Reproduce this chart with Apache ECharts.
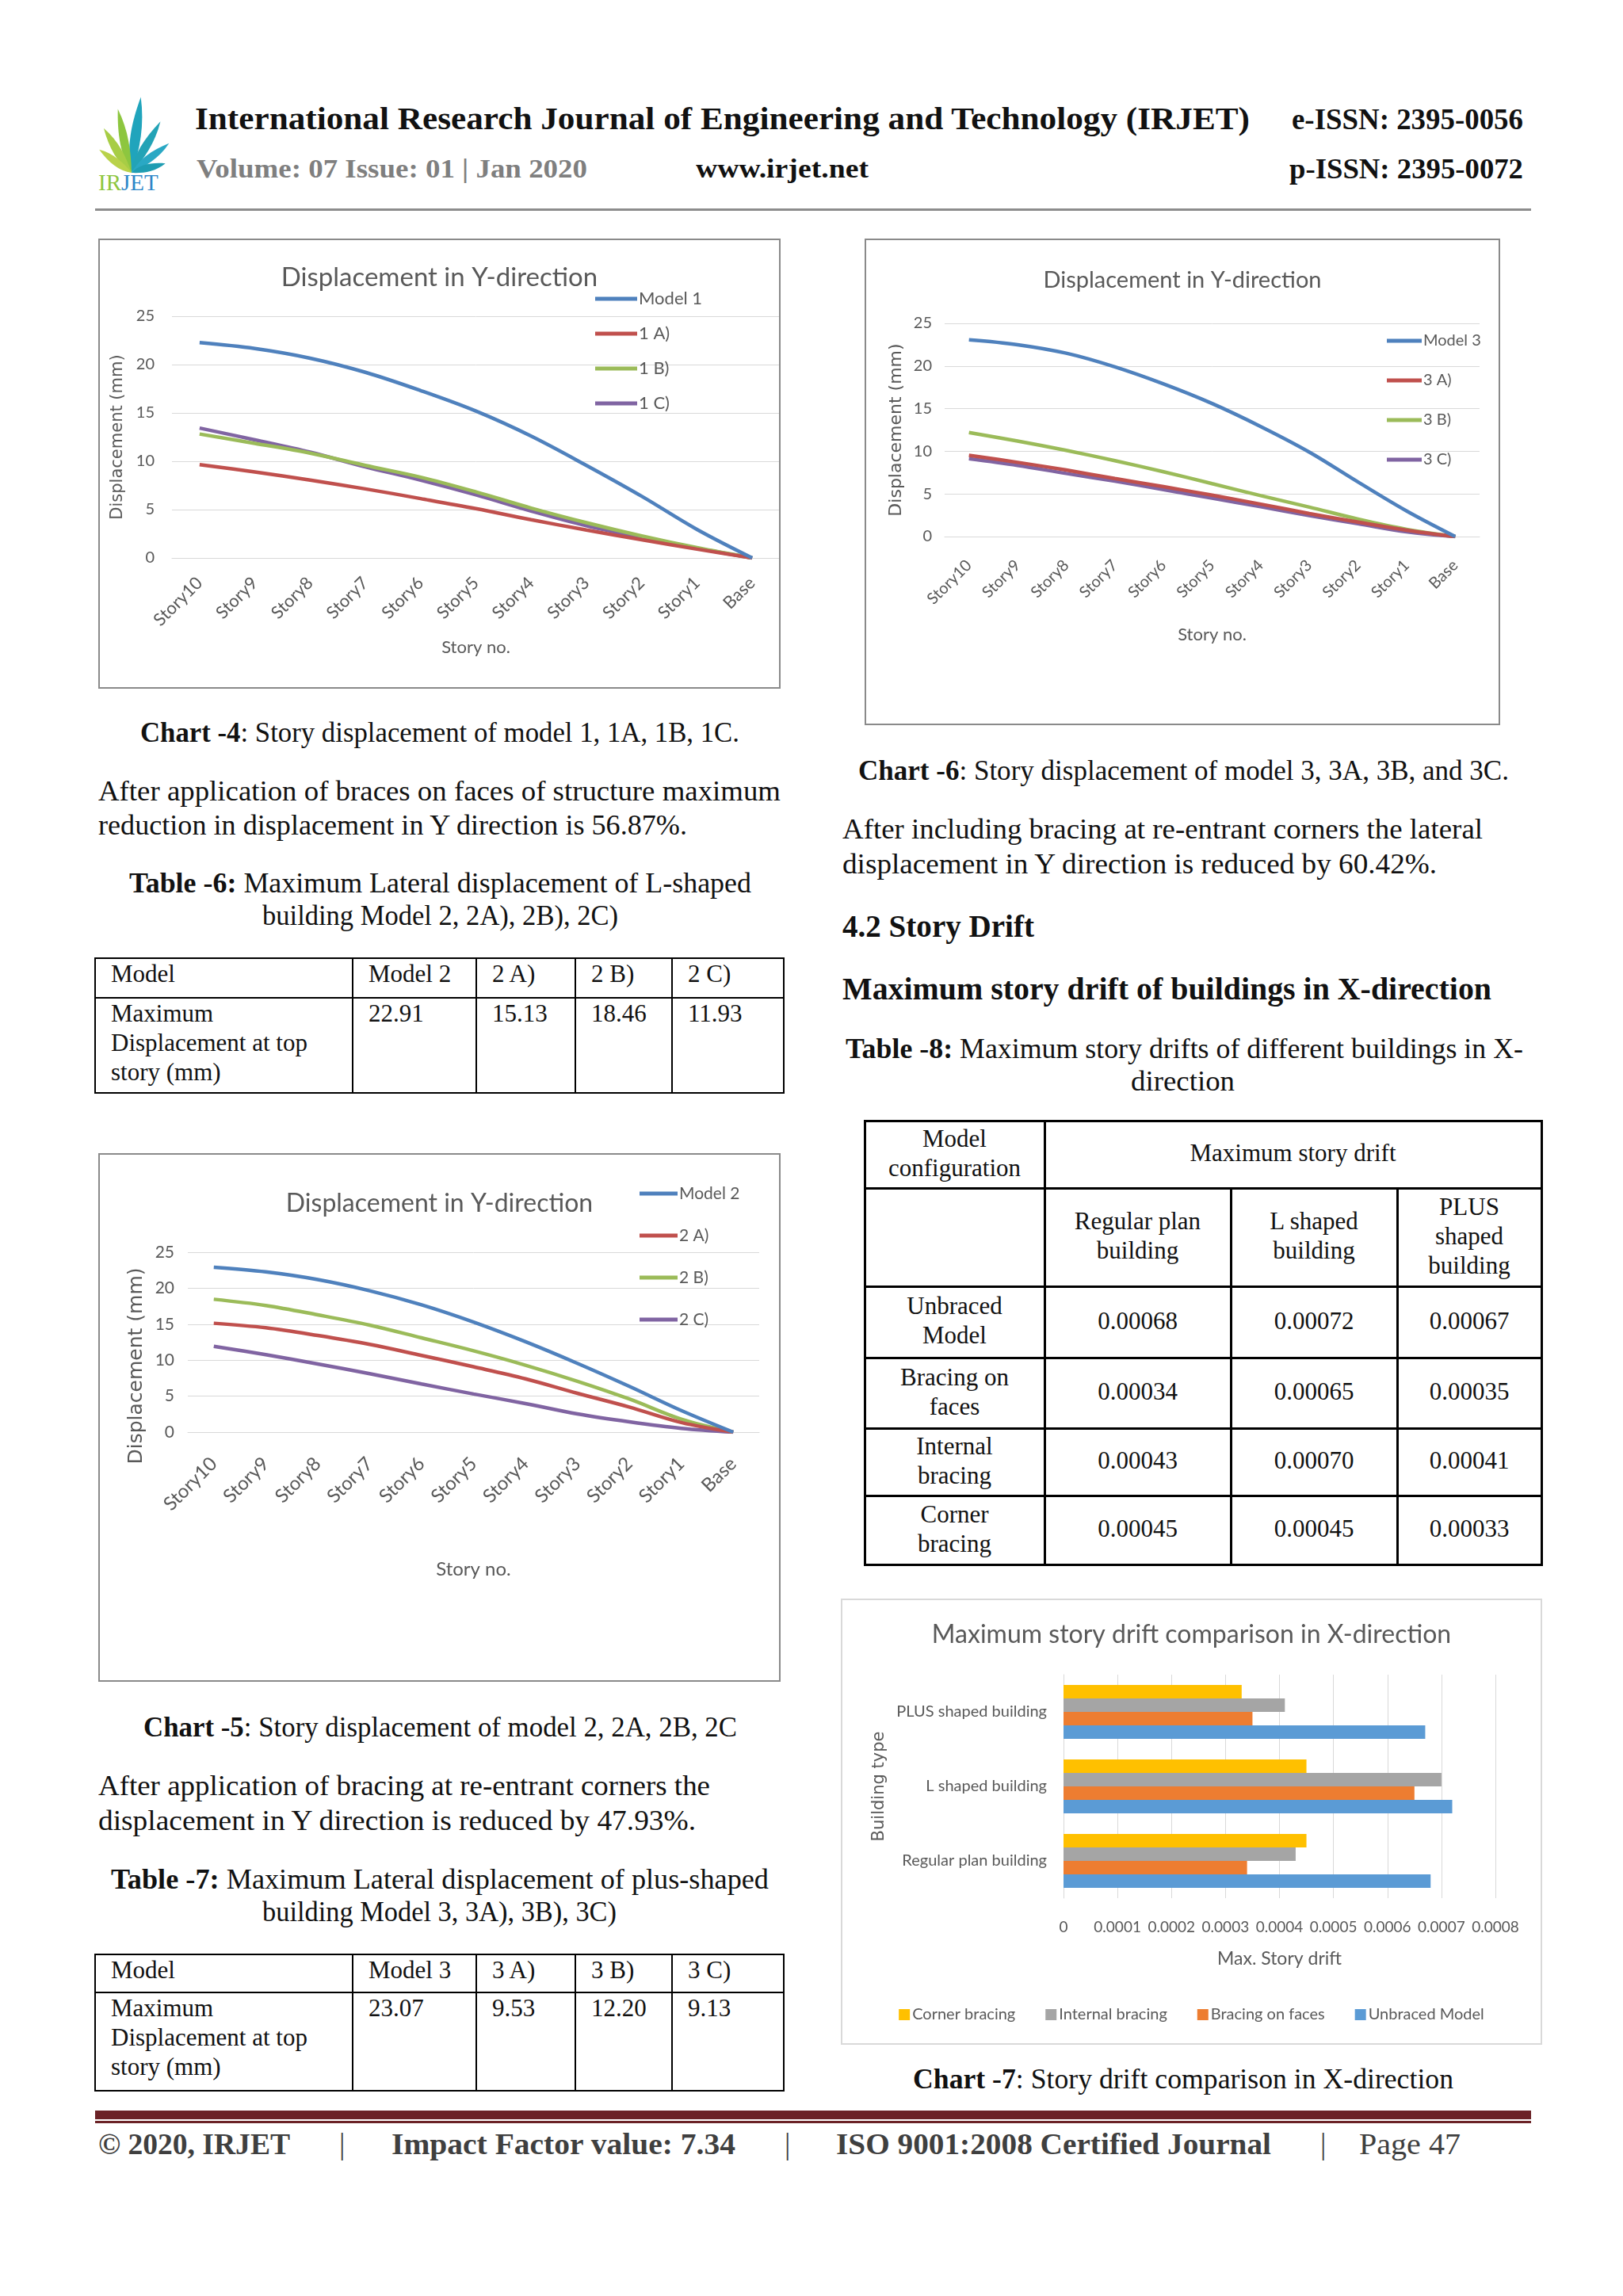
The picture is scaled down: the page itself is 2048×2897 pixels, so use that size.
<!DOCTYPE html>
<html><head><meta charset="utf-8">
<script src="https://cdn.jsdelivr.net/npm/echarts@6/dist/echarts.min.js"></script>
<style>
html,body{margin:0;padding:0;background:#fff;}
#page{position:relative;width:2048px;height:2897px;overflow:hidden;background:#fff;}
.t{position:absolute;white-space:nowrap;font-family:"Liberation Serif",serif;color:#111;transform-origin:0 0;}
.ln{position:absolute;background:#000;}
.chart{position:absolute;}
.frame{position:absolute;box-sizing:border-box;pointer-events:none;}
</style></head>
<body><div id="page">
<svg id="logo" style="position:absolute;left:110px;top:120px" width="120" height="126" viewBox="0 0 120 126">
  <g transform="translate(56,98)">
    <path d="M0,0 C-9,-30 -5,-62 5,-96 C12,-62 9,-30 0,0Z" fill="#20A4BC" transform="rotate(4)"/>
    <path d="M0,0 C-7,-25 -3,-52 7,-82 C12,-52 7,-25 0,0Z" fill="#8DC63F" transform="rotate(-17)"/>
    <path d="M0,0 C-7,-22 -3,-46 7,-74 C12,-46 7,-22 0,0Z" fill="#23A3B6" transform="rotate(24)"/>
    <path d="M0,0 C-7,-20 -3,-42 7,-66 C12,-42 7,-20 0,0Z" fill="#A7CD45" transform="rotate(-38)"/>
    <path d="M0,0 C-6,-18 -3,-38 6,-60 C11,-38 6,-18 0,0Z" fill="#2AA8C4" transform="rotate(46)"/>
    <path d="M0,0 C-6,-15 -3,-32 5,-50 C10,-32 6,-15 0,0Z" fill="#B9D24A" transform="rotate(-60)"/>
    <path d="M0,0 C-6,-13 -3,-28 5,-44 C10,-28 6,-13 0,0Z" fill="#1F9DB2" transform="rotate(68)"/>
  </g>
  <text x="14" y="120" font-family="Liberation Serif" font-size="29"><tspan fill="#8DC63F">IR</tspan><tspan fill="#2E86C8">JET</tspan></text>
</svg>
</div>
<script>
// ---------------- DATA ----------------
const storyCategories = ['Story10','Story9','Story8','Story7','Story6','Story5','Story4','Story3','Story2','Story1','Base'];
const displacementTicks = [0,5,10,15,20,25];

const legendChart4 = ['Model 1','1 A)','1 B)','1 C)'];
const model1  = [22.27,21.66,20.66,19.2,17.31,15.19,12.6,9.57,6.38,2.95,0];
const model1A = [9.66,8.9,8.05,7.14,6.14,5.1,3.95,2.89,1.88,0.91,0];
const model1B = [12.82,11.85,10.84,9.57,8.35,6.83,5.16,3.65,2.28,1.06,0];
const model1C = [13.43,12.21,10.94,9.42,8.05,6.53,4.86,3.34,2.13,1.0,0];

const legendChart5 = ['Model 2','2 A)','2 B)','2 C)'];
const model2  = [22.91,22.27,21.2,19.65,17.69,15.3,12.57,9.56,6.36,3.0,0];
const model2A = [15.13,14.5,13.43,12.19,10.66,9.08,7.41,5.4,3.49,1.34,0];
const model2B = [18.46,17.6,16.3,14.87,13.1,11.3,9.3,7.07,4.6,1.8,0];
const model2C = [11.93,10.76,9.47,8.13,6.69,5.3,3.97,2.53,1.43,0.53,0];

const legendChart6 = ['Model 3','3 A)','3 B)','3 C)'];
const model3  = [23.07,22.5,21.5,19.9,17.9,15.6,12.9,9.9,6.4,3.0,0];
const model3A = [9.53,8.7,7.8,6.8,5.85,4.85,3.8,2.7,1.7,0.75,0];
const model3B = [12.2,11.2,10.1,8.9,7.6,6.2,4.8,3.45,2.05,0.85,0];
const model3C = [9.13,8.35,7.4,6.5,5.5,4.5,3.5,2.45,1.5,0.55,0];

const buildingTypes = ['Regular plan building','L shaped building','PLUS shaped building'];
const driftSeriesNames = ['Corner bracing','Internal bracing','Bracing on faces','Unbraced Model'];
const cornerBracing   = [0.00045,0.00045,0.00033];
const internalBracing = [0.00043,0.00070,0.00041];
const bracingOnFaces  = [0.00034,0.00065,0.00035];
const unbracedModel   = [0.00068,0.00072,0.00067];
const driftTickLabels = ['0','0.0001','0.0002','0.0003','0.0004','0.0005','0.0006','0.0007','0.0008'];

const table6Head = ['Model','Model 2','2 A)','2 B)','2 C)'];
const table6Row  = ['Maximum<br>Displacement at top<br>story (mm)','22.91','15.13','18.46','11.93'];
const table7Head = ['Model','Model 3','3 A)','3 B)','3 C)'];
const table7Row  = ['Maximum<br>Displacement at top<br>story (mm)','23.07','9.53','12.20','9.13'];
const table8ColHeads = ['Regular plan<br>building','L shaped<br>building','PLUS<br>shaped<br>building'];
const table8RowHeads = ['Unbraced<br>Model','Bracing on<br>faces','Internal<br>bracing','Corner<br>bracing'];
const table8Values = [
  ['0.00068','0.00072','0.00067'],
  ['0.00034','0.00065','0.00035'],
  ['0.00043','0.00070','0.00041'],
  ['0.00045','0.00045','0.00033']
];

// ---------------- PAGE TEXT ----------------
const page = document.getElementById('page');
function line(html, x1, x2, baseline, fs, opt) {
  opt = opt || {};
  const d = document.createElement('div');
  d.className = 't';
  d.innerHTML = html;
  d.style.fontSize = fs + 'px';
  d.style.lineHeight = fs + 'px';
  if (opt.bold) d.style.fontWeight = 'bold';
  if (opt.color) d.style.color = opt.color;
  d.style.left = x1 + 'px';
  d.style.top = (baseline - 0.8375 * fs) + 'px';
  page.appendChild(d);
  if (x2) {
    const w = d.getBoundingClientRect().width;
    d.style.transform = 'scaleX(' + ((x2 - x1) / w) + ')';
  }
  return d;
}
function rect(x, y, w, h, color) {
  const d = document.createElement('div');
  d.className = 'ln';
  d.style.left = x + 'px'; d.style.top = y + 'px';
  d.style.width = w + 'px'; d.style.height = h + 'px';
  if (color) d.style.background = color;
  page.appendChild(d);
}
function hl(x1, x2, y, t) { rect(x1 - t / 2, y - t / 2, x2 - x1 + t, t); }
function vl(x, y1, y2, t) { rect(x - t / 2, y1 - t / 2, t, y2 - y1 + t); }
function cell(html, x1, x2, y1, y2, align, valign) {
  const d = document.createElement('div');
  d.className = 't';
  d.innerHTML = html;
  d.style.fontSize = '31px';
  d.style.lineHeight = '37px';
  d.style.textAlign = align;
  d.style.whiteSpace = 'nowrap';
  page.appendChild(d);
  const h = d.getBoundingClientRect().height;
  if (align === 'left') { d.style.left = (x1 + 20) + 'px'; }
  else { d.style.left = x1 + 'px'; d.style.width = (x2 - x1) + 'px'; }
  d.style.top = (valign === 'top' ? y1 + 1 : (y1 + y2) / 2 - h / 2 - 2) + 'px';
}

// Header
line('International Research Journal of Engineering and Technology (IRJET)', 246, 1577, 163, 41, {bold: true});
line('e-ISSN: 2395-0056', 1630, 1922, 163, 38, {bold: true});
line('Volume: 07 Issue: 01 | Jan 2020', 248, 741, 225, 33, {bold: true, color: '#7f7f7f'});
line('www.irjet.net', 878, 1096, 225, 33, {bold: true});
line('p-ISSN: 2395-0072', 1627, 1922, 225, 35, {bold: true});
rect(120, 263, 1812, 3, '#8c8c8c');

// Left column text
line('<b>Chart -4</b>: Story displacement of model 1, 1A, 1B, 1C.', 177, 933, 936, 35);
line('After application of braces on faces of structure maximum', 124, 985, 1010, 35);
line('reduction in displacement in Y direction is 56.87%.', 124, 867, 1053, 35);
line('<b>Table -6:</b> Maximum Lateral displacement of L-shaped', 163, 948, 1126, 35);
line('building Model 2, 2A), 2B), 2C)', 331, 780, 1167, 35);
line('<b>Chart -5</b>: Story displacement of model 2, 2A, 2B, 2C', 181, 930, 2191, 35);
line('After application of bracing at re-entrant corners the', 124, 896, 2265, 35);
line('displacement in Y direction is reduced by 47.93%.', 124, 878, 2309, 35);
line('<b>Table -7:</b> Maximum Lateral displacement of plus-shaped', 140, 970, 2383, 35);
line('building Model 3, 3A), 3B), 3C)', 331, 778, 2424, 35);

// Right column text
line('<b>Chart -6</b>: Story displacement of model 3, 3A, 3B, and 3C.', 1083, 1904, 984, 35);
line('After including bracing at re-entrant corners the lateral', 1063, 1871, 1058, 35);
line('displacement in Y direction is reduced by 60.42%.', 1063, 1813, 1102, 35);
line('4.2 Story Drift', 1063, 1305, 1182, 39, {bold: true});
line('Maximum story drift of buildings in X-direction', 1063, 1882, 1261, 39, {bold: true});
line('<b>Table -8:</b> Maximum story drifts of different buildings in X-', 1067, 1922, 1335, 35);
line('direction', 1427, 1558, 1376, 35);
line('<b>Chart -7</b>: Story drift comparison in X-direction', 1152, 1834, 2635, 35);

// Tables 6 and 7
function simpleTable(head, row, y0, y1, y2) {
  const cols = [120, 445, 601, 726, 848, 989];
  const t = 2.5;
  [y0, y1, y2].forEach(y => hl(cols[0], cols[5], y, t));
  cols.forEach(x => vl(x, y0, y2, t));
  for (let i = 0; i < 5; i++) {
    cell(head[i], cols[i], cols[i + 1], y0, y1, 'left', 'top');
    cell(row[i], cols[i], cols[i + 1], y1, y2, 'left', 'top');
  }
}
simpleTable(table6Head, table6Row, 1209, 1259, 1379);
simpleTable(table7Head, table7Row, 2466, 2514, 2638);

// Table 8
(function () {
  const cols = [1091, 1318, 1553, 1763, 1945];
  const rows = [1414, 1499, 1623, 1713, 1802, 1887, 1974];
  const t = 3;
  rows.forEach(y => hl(cols[0], cols[4], y, t));
  vl(cols[0], rows[0], rows[6], t);
  vl(cols[1], rows[0], rows[6], t);
  vl(cols[4], rows[0], rows[6], t);
  vl(cols[2], rows[1], rows[6], t);
  vl(cols[3], rows[1], rows[6], t);
  cell('Model<br>configuration', cols[0], cols[1], rows[0], rows[1], 'center', 'middle');
  cell('Maximum story drift', cols[1], cols[4], rows[0], rows[1], 'center', 'middle');
  for (let c = 0; c < 3; c++) cell(table8ColHeads[c], cols[c + 1], cols[c + 2], rows[1], rows[2], 'center', 'middle');
  for (let r = 0; r < 4; r++) {
    cell(table8RowHeads[r], cols[0], cols[1], rows[r + 2], rows[r + 3], 'center', 'middle');
    for (let c = 0; c < 3; c++) cell(table8Values[r][c], cols[c + 1], cols[c + 2], rows[r + 2], rows[r + 3], 'center', 'middle');
  }
})();

// Footer
rect(120, 2663, 1812, 11, '#6B2226');
rect(120, 2676, 1812, 3, '#6B2226');
const fc = '#3f3f3f';
line('© 2020, IRJET', 124, 366, 2718, 37, {bold: true, color: fc});
line('|', 428, null, 2718, 37, {color: fc});
line('Impact Factor value: 7.34', 494, 928, 2718, 37, {bold: true, color: fc});
line('|', 990, null, 2718, 37, {color: fc});
line('ISO 9001:2008 Certified Journal', 1055, 1604, 2718, 37, {bold: true, color: fc});
line('|', 1666, null, 2718, 37, {color: fc});
line('Page 47', 1715, 1843, 2718, 37, {color: fc});

// ---------------- CHARTS ----------------
const FONT = 'Lato';
const GREY = '#595959';
const lineColors = ['#4F81BD', '#C0504D', '#9BBB59', '#8064A2'];
const barColors = ['#FFC000', '#A5A5A5', '#ED7D31', '#5B9BD5'];

function box(x, y, w, h, border) {
  const d = document.createElement('div');
  d.className = 'chart';
  d.style.left = x + 'px'; d.style.top = y + 'px';
  d.style.width = w + 'px'; d.style.height = h + 'px';
  page.appendChild(d);
  const f = document.createElement('div');
  f.className = 'frame';
  f.style.left = x + 'px'; f.style.top = y + 'px';
  f.style.width = w + 'px'; f.style.height = h + 'px';
  f.style.border = border;
  page.appendChild(f);
  return echarts.init(d, null, {renderer: 'canvas', width: w, height: h});
}

function displacementChart(c) {
  const chart = box(c.x, c.y, c.w, c.h, '2px solid #8a8a8a');
  const lh = c.legendFont + 2;
  chart.setOption({
    animation: false,
    color: lineColors,
    title: {
      text: 'Displacement in Y-direction', left: 'center', top: c.titleTop,
      textStyle: {fontFamily: FONT, fontSize: c.titleFont, fontWeight: 'normal', color: GREY, lineHeight: c.titleFont}
    },
    legend: {
      orient: 'vertical', left: c.legendLeft, top: c.legendCenter - lh / 2, padding: 0,
      icon: 'rect', itemWidth: c.legendIcon, itemHeight: 5, itemGap: c.legendSpacing - lh,
      textStyle: {fontFamily: FONT, fontSize: c.legendFont, color: GREY, lineHeight: lh, padding: [0, 0, 0, -3]},
      data: c.names
    },
    grid: {left: c.grid[0], top: c.grid[1], width: c.grid[2], height: c.grid[3]},
    xAxis: {
      type: 'category', data: storyCategories, boundaryGap: true,
      axisLine: {show: true, lineStyle: {color: '#D9D9D9', width: 1}},
      axisTick: {show: false},
      axisLabel: {rotate: 45, margin: c.xLabelMargin, fontFamily: FONT, fontSize: c.xLabelFont, color: GREY, interval: 0},
      name: 'Story no.', nameLocation: 'middle', nameGap: c.xNameGap,
      nameTextStyle: {fontFamily: FONT, fontSize: c.xNameFont, color: GREY}
    },
    yAxis: {
      type: 'value', min: displacementTicks[0], max: displacementTicks[displacementTicks.length - 1], interval: 5,
      axisLine: {show: false}, axisTick: {show: false},
      splitLine: {lineStyle: {color: '#D9D9D9', width: 1}},
      axisLabel: {margin: c.yLabelMargin, fontFamily: FONT, fontSize: c.yLabelFont, color: GREY},
      name: 'Displacement (mm)', nameLocation: 'middle', nameGap: c.yNameGap,
      nameTextStyle: {fontFamily: 'DejaVu Sans', fontSize: c.yNameFont, color: GREY, padding: c.yNamePad || 0}
    },
    series: c.series.map((s, i) => ({
      name: c.names[i], type: 'line', data: s, smooth: 0.35, symbol: 'none',
      lineStyle: {width: 4.5, color: lineColors[i]}, z: 10 - i
    }))
  });
}

displacementChart({
  x: 124, y: 301, w: 861, h: 568, grid: [93, 98, 767, 305],
  titleTop: 28, titleFont: 33,
  legendLeft: 627, legendCenter: 76, legendSpacing: 44, legendIcon: 53, legendFont: 22,
  xLabelMargin: 28, xLabelFont: 22, xNameGap: 102, xNameFont: 22,
  yLabelMargin: 22, yLabelFont: 20, yNameGap: 58, yNameFont: 21,
  names: legendChart4, series: [model1, model1A, model1B, model1C]
});
displacementChart({
  x: 1091, y: 301, w: 802, h: 614, grid: [101, 107, 675, 269],
  titleTop: 33, titleFont: 29,
  legendLeft: 659, legendCenter: 129, legendSpacing: 50, legendIcon: 44, legendFont: 20,
  xLabelMargin: 33, xLabelFont: 20, xNameGap: 113, xNameFont: 22,
  yLabelMargin: 16, yLabelFont: 20, yNameGap: 46, yNameFont: 22,
  names: legendChart6, series: [model3, model3A, model3B, model3C]
});
displacementChart({
  x: 124, y: 1455, w: 861, h: 667, grid: [113, 125, 721, 227],
  titleTop: 43, titleFont: 32,
  legendLeft: 683, legendCenter: 51, legendSpacing: 53, legendIcon: 48, legendFont: 21,
  xLabelMargin: 36, xLabelFont: 24, xNameGap: 161, xNameFont: 24,
  yLabelMargin: 17, yLabelFont: 21, yNameGap: 52, yNameFont: 25, yNamePad: [0, 60, 0, 0],
  names: legendChart5, series: [model2, model2A, model2B, model2C]
});

// Chart 7: horizontal bars
(function () {
  const chart = box(1061, 2017, 885, 563, '2px solid #d9d9d9');
  const seriesData = [cornerBracing, internalBracing, bracingOnFaces, unbracedModel];
  chart.setOption({
    animation: false,
    color: barColors,
    title: {
      text: 'Maximum story drift comparison in X-direction', left: 'center', top: 25,
      textStyle: {fontFamily: FONT, fontSize: 32, fontWeight: 'normal', color: GREY, lineHeight: 32}
    },
    legend: {
      bottom: 28, left: 'center', padding: 0, icon: 'rect', itemWidth: 14, itemHeight: 14, itemGap: 38,
      textStyle: {fontFamily: FONT, fontSize: 20, color: GREY, padding: [0, 0, 0, -2]},
      data: driftSeriesNames
    },
    grid: {left: 281, top: 96, width: 545, height: 282},
    xAxis: {
      type: 'value', min: 0, max: 0.0008, interval: 0.0001,
      axisLine: {show: false}, axisTick: {show: false},
      splitLine: {lineStyle: {color: '#D9D9D9', width: 1}},
      axisLabel: {margin: 27, fontFamily: FONT, fontSize: 19, color: GREY,
        formatter: v => driftTickLabels[Math.round(v / 0.0001)]},
      name: 'Max. Story drift', nameLocation: 'middle', nameGap: 65,
      nameTextStyle: {fontFamily: FONT, fontSize: 23, color: GREY}
    },
    yAxis: {
      type: 'category', data: buildingTypes,
      axisLine: {show: true, lineStyle: {color: '#D9D9D9'}}, axisTick: {show: false},
      axisLabel: {margin: 21, fontFamily: FONT, fontSize: 20, color: GREY},
      name: 'Building type', nameLocation: 'middle', nameGap: 220,
      nameTextStyle: {fontFamily: 'DejaVu Sans', fontSize: 21, color: GREY}
    },
    series: seriesData.map((d, i) => ({
      name: driftSeriesNames[i], type: 'bar', data: d, barWidth: 17, barGap: '0%',
      itemStyle: {color: barColors[i]}
    }))
  });
})();
</script>
</body></html>
